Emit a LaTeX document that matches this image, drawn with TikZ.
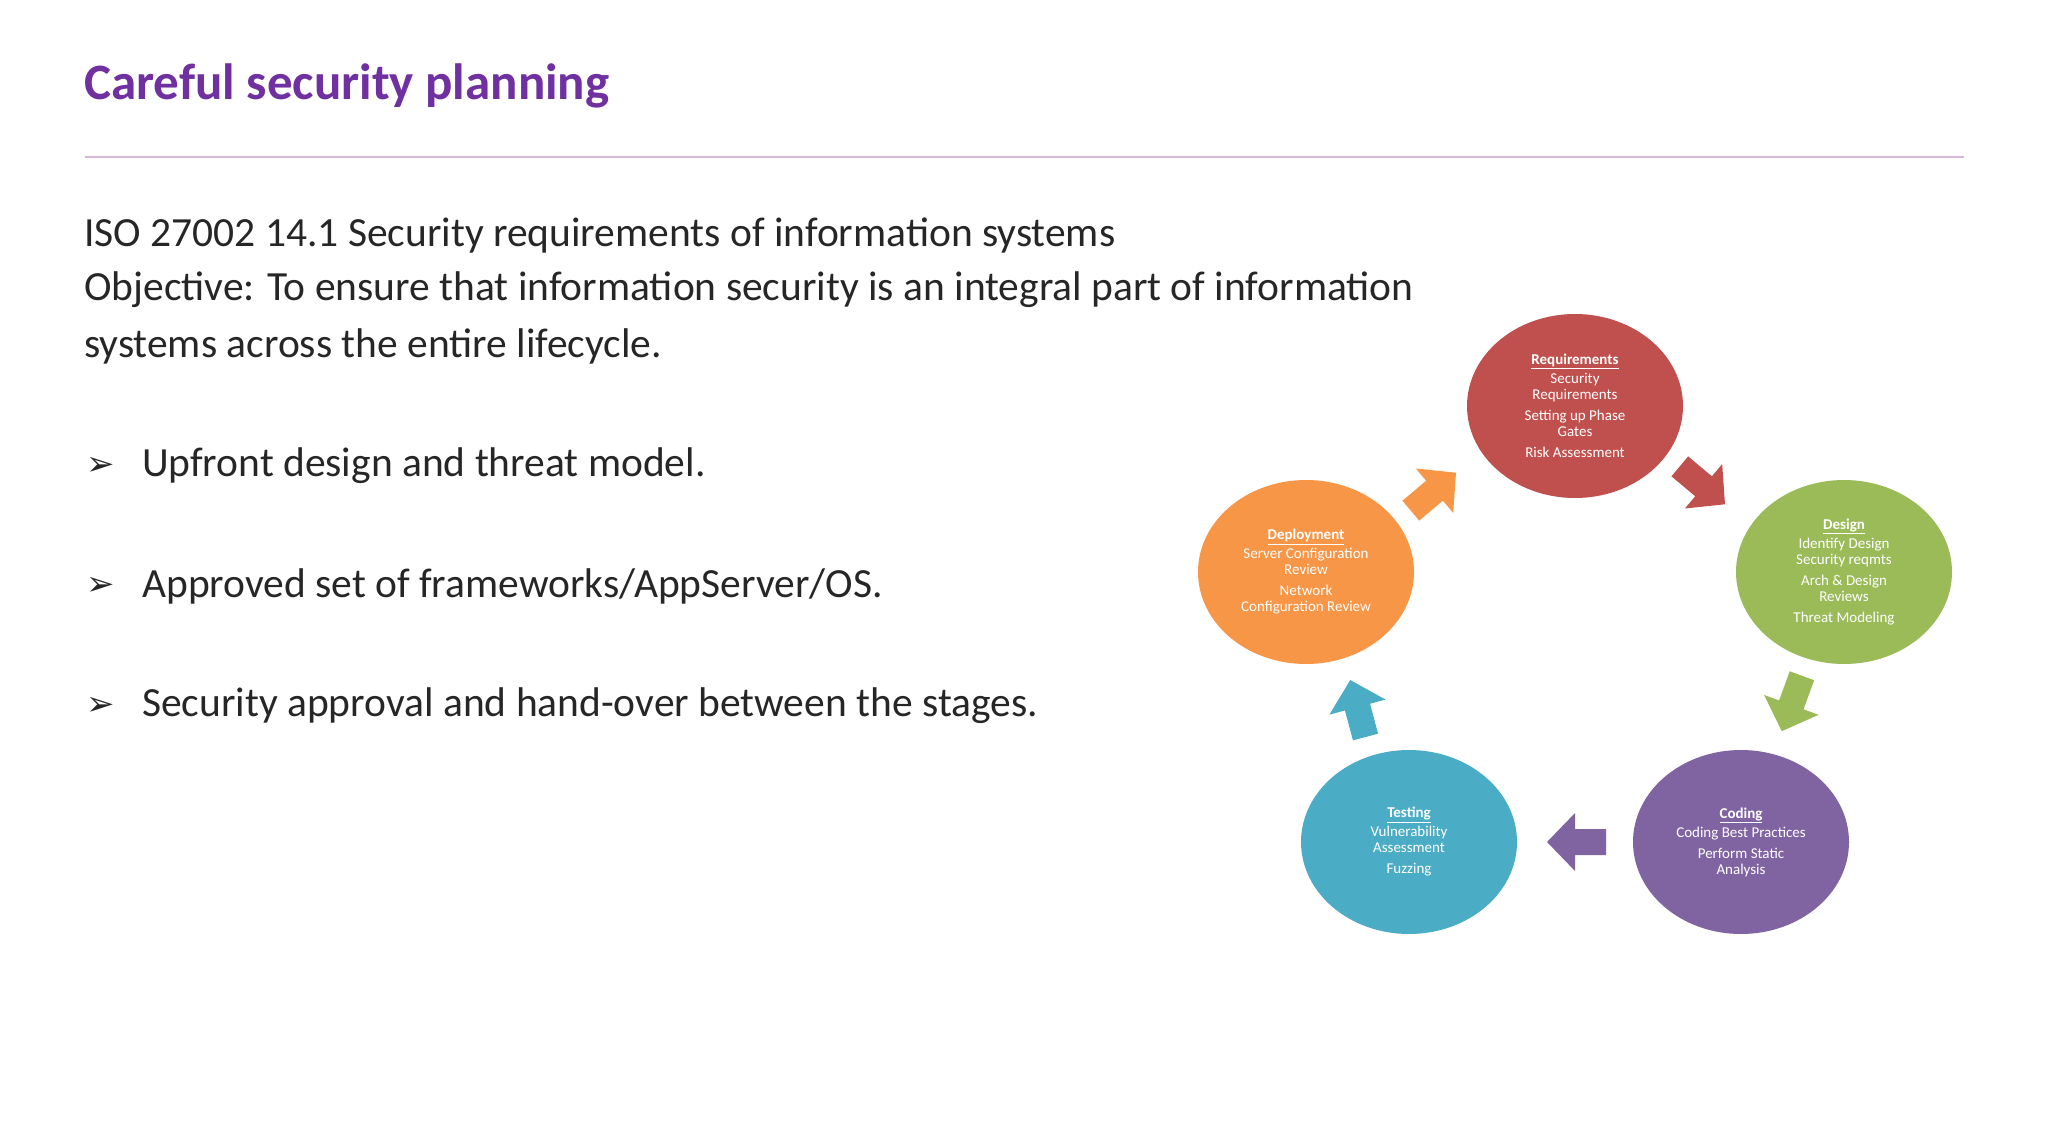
\documentclass[tikz,border=0pt]{standalone}
\usepackage{fontspec}
\setmainfont{Carlito}
\newfontfamily\dejavu{DejaVu Sans}
\usetikzlibrary{shapes.geometric}
\definecolor{ttl}{HTML}{7030A0}
\definecolor{rulec}{HTML}{D8B8D8}
\definecolor{bodyc}{HTML}{262626}
\definecolor{cred}{HTML}{C0504D}
\definecolor{cgreen}{HTML}{9BBB59}
\definecolor{cpurple}{HTML}{8064A2}
\definecolor{cblue}{HTML}{4BACC6}
\definecolor{corange}{HTML}{F79646}
\tikzset{
  phase/.style={ellipse,minimum width=216pt,minimum height=184pt,inner sep=0pt,text=white,align=center,font=\fontsize{15}{16}\selectfont},
  body/.style={anchor=west,text=bodyc,font=\fontsize{41.5}{50}\selectfont,inner sep=0pt},
  blockarrow/.pic={\fill[pic actions] (-29,-13) -- (2,-13) -- (2,-29) -- (30,0) -- (2,29) -- (2,13) -- (-29,13) -- cycle;}
}
\newcommand{\ph}[1]{\underline{\textbf{#1}}\\[3pt]}
\begin{document}
\begin{tikzpicture}[x=1pt,y=-1pt]
\useasboundingbox (0,0) rectangle (2048,1145);
\fill[white] (0,0) rectangle (2048,1145);
\node[anchor=west,text=ttl,font=\fontsize{51}{60}\selectfont\bfseries,inner sep=0pt] (title) at (84,86) {Careful security planning};
\draw[rulec,line width=1.3pt] (85,157) coordinate (r1) -- (1964,157) coordinate (r2);
\node[body] (l1) at (84,235) {ISO 27002 14.1 Security requirements of information systems};
\node[body] (l2) at (84,290) {Objective: To ensure that information security is an integral part of information};
\node[body] (l3) at (84,346) {systems across the entire lifecycle.};
\foreach \yy/\tt [count=\i] in {466/{Upfront design and threat model.}, 586/{Approved set of frameworks/AppServer/OS.}, 706/{Security approval and hand-over between the stages.}}{
  \node[text=bodyc,font=\dejavu\bfseries\fontsize{34}{40}\selectfont,inner sep=0pt] (b\i) at (101,\yy) {➢};
  \node[body] (t\i) at (142,\yy) {\tt};
}
\node[phase,fill=cred] (req) at (1575,406) {\ph{Requirements}Security\\Requirements\\[5pt]Setting up Phase\\Gates\\[5pt]Risk Assessment};
\node[phase,fill=cgreen] (des) at (1844,572) {\ph{Design}Identify Design\\Security reqmts\\[5pt]Arch \& Design\\Reviews\\[5pt]Threat Modeling};
\node[phase,fill=cpurple] (cod) at (1741,842) {\ph{Coding}Coding Best Practices\\[5pt]Perform Static\\Analysis};
\node[phase,fill=cblue] (tes) at (1409,842) {\ph{Testing}Vulnerability\\Assessment\\[5pt]Fuzzing};
\node[phase,fill=corange] (dep) at (1306,572) {\ph{Deployment}Server Configuration\\Review\\[5pt]Network\\Configuration Review};
\path (1702,485) pic[fill=cred,rotate=-40] {blockarrow};
\path (1792,703) pic[fill=cgreen,rotate=-110] {blockarrow};
\path (1577,842) pic[fill=cpurple,rotate=180] {blockarrow};
\path (1358,709) pic[fill=cblue,rotate=105] {blockarrow};
\path (1433,492) pic[fill=corange,rotate=40] {blockarrow};
\end{tikzpicture}
\end{document}
